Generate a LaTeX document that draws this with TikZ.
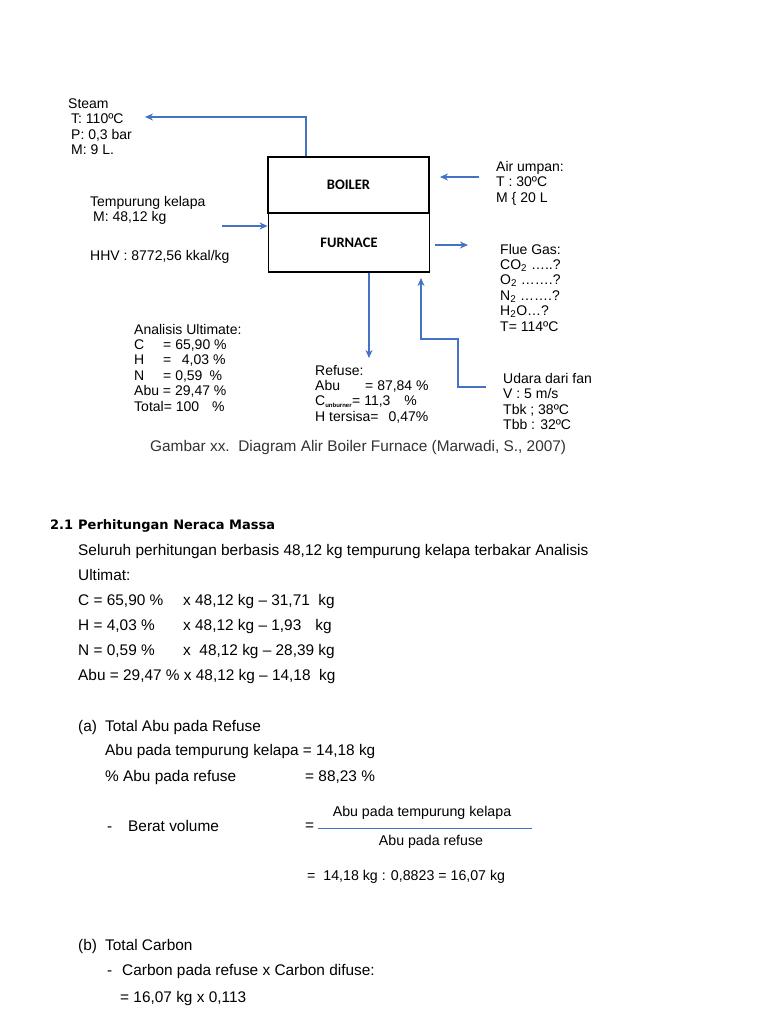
\documentclass[tikz,border=0pt]{standalone}
\usepackage{fontspec}
\setmainfont{Liberation Sans}
\newfontfamily\boxfont{Carlito}
\newfontfamily\headfont{DejaVu Sans}
\usetikzlibrary{arrows.meta,positioning}
\definecolor{arrowblue}{HTML}{4472C4}

\begin{document}
\begin{tikzpicture}
	[x=1pt,y=-1pt,
	unit node/.style={shape=rectangle,draw,line width=1.8pt,minimum width=161pt,font=\boxfont\bfseries\fontsize{14.5}{16}\selectfont},
	label node/.style={anchor=west,align=left,inner sep=0pt,font=\fontsize{14}{15.4}\selectfont},
	body node/.style={anchor=base west,inner sep=0pt,font=\fontsize{15.4}{18}\selectfont},
	head node/.style={anchor=base west,inner sep=0pt,font=\headfont\bfseries\fontsize{13}{15}\selectfont},
	small node/.style={anchor=base,inner sep=0pt,font=\fontsize{14.2}{16}\selectfont},
	flow/.style={draw=arrowblue,line width=1.5pt,-{Stealth[length=8pt,width=7pt]}}]
	\useasboundingbox [fill=white] (0,0) rectangle (768,1024);
	
	\node [unit node,minimum height=56pt] (boiler) at (348.5,185) {BOILER};
	\node [unit node,minimum height=59pt] (furnace) at (349,242.5) {FURNACE};
	
	\node [label node] (steam) at (68,126.5) {Steam\\\hspace*{3pt}T: 110ºC\\\hspace*{3pt}P: 0,3 bar\\\hspace*{3pt}M: 9 L.};
	\node [label node] (shell) at (90,210.5) {Tempurung kelapa\\\hspace*{3pt}M: 48,12 kg};
	\node [label node] (hhv) at (90,257) {HHV : 8772,56 kkal/kg};
	\node [label node] (feedwater) at (496,183) {Air umpan:\\T : 30ºC\\M \{ 20 L};
	\node [label node] (flue) at (500,287.5) {Flue Gas:\\CO\textsubscript{2} …..?\\O\textsubscript{2} …….?\\N\textsubscript{2} …….?\\H\textsubscript{2}O…?\\T= 114ºC};
	\node [label node] (ultimate) at (134,367.5) {Analisis Ultimate:\\
		\makebox[29pt][l]{C}= 65,90 \%\\
		\makebox[29pt][l]{H}=\hspace{10.5pt}4,03 \%\\
		\makebox[29pt][l]{N}= 0,59\hspace{7pt}\%\\
		Abu = 29,47 \%\\
		Total= 100\hspace{13pt}\%};
	\node [label node] (refuse) at (315,394) {Refuse:\\
		\makebox[50pt][l]{Abu}= 87,84 \%\\
		\makebox[37pt][l]{C\raisebox{-1.5pt}{\fontsize{6}{6}\selectfont\bfseries unburner}}= 11,3\hspace{14pt}\%\\
		H tersisa=\hspace{10pt}0,47\%};
	\node [label node] (fan) at (503,401.5) {Udara dari fan\\V : 5 m/s\\Tbk ; 38ºC\\Tbb : 32ºC};
	
	\coordinate (steam end) at (145,117);
	\coordinate (feed start) at (222,226);
	\coordinate (water start) at (479,177);
	\coordinate (water end) at (440,177);
	\coordinate (flue start) at (435,245);
	\coordinate (flue end) at (468,245);
	\coordinate (refuse end) at (369,358);
	\coordinate (fan start) at (486,387);
	\coordinate (fan end) at (421,278);
	
	\draw[flow] ([xshift=-42.5pt]boiler.north) |- (steam end);
	\draw[flow] (feed start) -- (feed start -| furnace.west);
	\draw[flow] (water start) -- (water end);
	\draw[flow] (flue start) -- (flue end);
	\draw[flow] (furnace.south -| refuse end) -- (refuse end);
	\draw[flow] (fan start) -| (458,339) -| (fan end);
	
	\node [body node,text=black!80] (caption) at (150,451.5) {Gambar xx.\ \ Diagram Alir Boiler Furnace (Marwadi, S., 2007)};
	
	\node [head node] (secnum) at (50,529) {2.1};
	\node [head node] (sectitle) at (78,529) {Perhitungan Neraca Massa};
	\node [body node] (intro) at (78,555.5) {Seluruh perhitungan berbasis 48,12 kg tempurung kelapa terbakar Analisis};
	\node [body node] (ultimat) at (78,580.5) {Ultimat:};
	\node [body node] (cpct) at (78,605.5) {C = 65,90 \%};
	\node [body node] (cmass) at (183,605.5) {x 48,12 kg – 31,71\ \ kg};
	\node [body node] (hpct) at (78,630.5) {H = 4,03 \%};
	\node [body node] (hmass) at (183,630.5) {x 48,12 kg – 1,93\hspace{14pt}kg};
	\node [body node] (npct) at (78,655.5) {N = 0,59 \%};
	\node [body node] (nmass) at (183,655.5) {x\ \ 48,12 kg – 28,39 kg};
	\node [body node] (abumass) at (78,680.5) {Abu = 29,47 \% x 48,12 kg – 14,18\ \ kg};
	
	\node [body node] (parta) at (78,731.5) {(a)};
	\node [body node] (partatitle) at (105,731.5) {Total Abu pada Refuse};
	\node [body node] (ashshell) at (105,755.5) {Abu pada tempurung kelapa = 14,18 kg};
	\node [body node] (ashpct) at (105,781.5) {\% Abu pada refuse};
	\node [body node] (ashpctval) at (305,781.5) {= 88,23 \%};
	\node [body node] (bdash) at (107,831.5) {-};
	\node [body node] (berat) at (128,831.5) {Berat volume};
	\node [body node] (beq) at (305,830) {=};
	\node [small node] (num) at (422,816) {Abu pada tempurung kelapa};
	\node [small node] (den) at (431,845) {Abu pada refuse};
	\coordinate (bar left) at (318,828);
	\coordinate (bar right) at (532,828);
	\draw[arrowblue,line width=1pt] (bar left) -- (bar right);
	\node [small node,anchor=base west] (bresult) at (307,880) {=\ \ 14,18 kg : 0,8823 = 16,07 kg};
	
	\node [body node] (partb) at (78,950.5) {(b)};
	\node [body node] (partbtitle) at (105,950.5) {Total Carbon};
	\node [body node] (cdash) at (107,975.5) {-};
	\node [body node] (carbon) at (122,975.5) {Carbon pada refuse x Carbon difuse:};
	\node [body node] (carbonval) at (120,1002.5) {= 16,07 kg x 0,113};
	
\end{tikzpicture}
\end{document}
